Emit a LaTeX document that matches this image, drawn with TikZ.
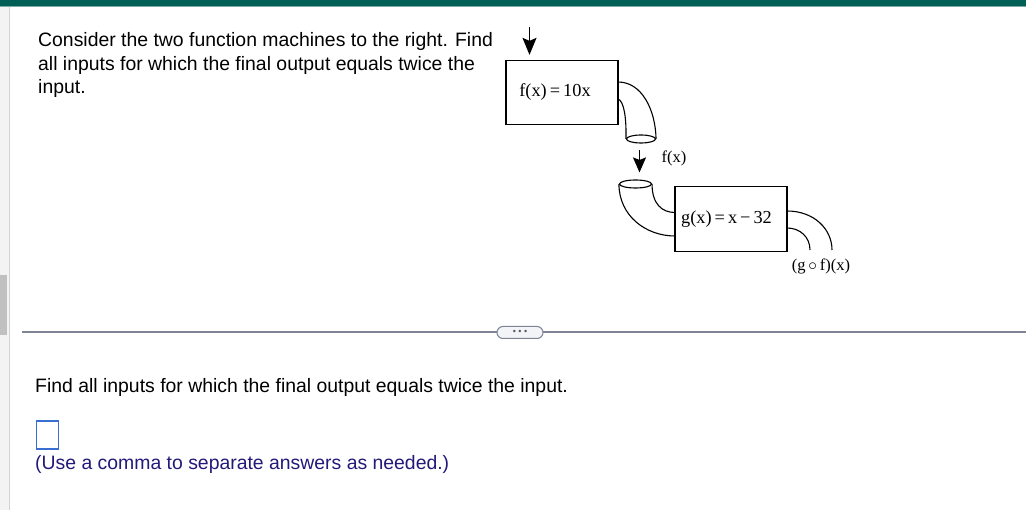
\documentclass[tikz,border=0pt]{standalone}
\usepackage{fontspec}
\setmainfont{Liberation Sans}
\newfontfamily\machinefont{Liberation Serif}
\usetikzlibrary{positioning,arrows.meta,shapes.geometric,shapes.misc}
\definecolor{topbar}{HTML}{025F55}
\definecolor{topline}{HTML}{7FA9A3}
\definecolor{sidegray}{HTML}{F3F3F3}
\definecolor{sideline}{HTML}{D0D4DC}
\definecolor{scrollgray}{HTML}{C0C0C0}
\definecolor{sepgray}{HTML}{7E8494}
\definecolor{buttonfill}{HTML}{F2F4F7}
\definecolor{answerblue}{HTML}{3A6FD2}
\definecolor{hintblue}{HTML}{22197A}
\tikzset{
	machine/.style = {draw, line width=1.3pt, minimum width=112pt, minimum height=64pt, inner sep=0pt, font=\machinefont\fontsize{18.3}{20}\selectfont},
	spout/.style = {draw, ellipse, line width=1.1pt, minimum width=29pt, minimum height=8pt, inner sep=0pt},
	pipe/.style = {line width=1.1pt},
	feed/.style = {line width=1.4pt, -{Stealth[width=14pt,length=17pt,inset=3pt]}},
	tag/.style = {inner sep=0pt, font=\machinefont\fontsize{16.5}{18}\selectfont},
	question/.style = {inner sep=0pt, align=left, font=\fontsize{19.4}{23.5}\selectfont},
}
\begin{document}
\begin{tikzpicture}[x=1pt,y=-1pt]
	\useasboundingbox (0,0) rectangle (1026,510);
	\fill[white] (0,0) rectangle (1026,510);
	\fill[topbar] (0,0) rectangle (1026,6);
	\fill[topline] (0,6) rectangle (1026,7.5);
	\fill[sidegray] (0,7.5) rectangle (9,510);
	\draw[sideline] (9.5,7.5) -- (9.5,510);
	\fill[scrollgray] (0,275) rectangle (7,335);
	
	\node[question, anchor=north west] (intro) at (38,32.5) {Consider the two function machines to the right. Find\\all inputs for which the final output equals twice the\\input.};
	
	\node[machine] (fbox) at (562,92.5) {f(x)\,=\,10x\kern14pt\relax};
	\coordinate (fin) at (529.5,27);
	\node[spout] (fspout) at (641,139) {};
	\coordinate (fouttop) at (618,82);
	\coordinate (foutlow) at (618,99);
	\coordinate (fdrop) at (639.5,150);
	\node[tag] (fxtag) at (674,158) {f(x)};
	
	\node[spout, minimum width=32pt] (gspout) at (635.5,184) {};
	\node[machine, minimum height=65pt] (gbox) at (731,219) {g(x)\,=\,x\,−\,32\kern9pt\relax};
	\coordinate (gintop) at (675,212.5);
	\coordinate (ginlow) at (675,236);
	\coordinate (gouttop) at (787,211);
	\coordinate (goutlow) at (787,228);
	\coordinate (gendin) at (810,250);
	\coordinate (gendout) at (832,250);
	\node[tag] (gftag) at (821,266) {(g\,$\circ$\,f)(x)};
	
	\draw[feed] (fin) -- ([yshift=5pt]fin |- fbox.north);
	\draw[pipe] (fouttop) .. controls (642,82) and (655.5,110) .. (fspout.east);
	\draw[pipe] (foutlow) .. controls (624,101) and (626.5,118) .. (fspout.west);
	\draw[feed, -{Stealth[width=13pt,length=15pt,inset=2.5pt]}] (fdrop) -- ([yshift=7pt]fdrop |- gspout.north);
	\draw[pipe] (gspout.east) .. controls (652,204) and (662,212.5) .. (gintop);
	\draw[pipe] (gspout.west) .. controls (619,216) and (646,236) .. (ginlow);
	\draw[pipe] (gouttop) .. controls (814,211) and (832,229) .. (gendout);
	\draw[pipe] (goutlow) .. controls (800,228) and (810,237) .. (gendin);
	
	\draw[sepgray, line width=1.2pt] (22,332) -- (1026,332);
	\node[draw=sepgray, fill=buttonfill, rounded rectangle, line width=1pt, minimum width=46pt, minimum height=12pt, inner sep=0pt, text=black!65, font=\fontsize{9}{9}\selectfont] (more) at (520,332.5) {•\hspace{2.5pt}•\hspace{2.5pt}•};
	
	\node[question, anchor=base west] (task) at (35,393) {Find all inputs for which the final output equals twice the input.};
	\node[draw=answerblue, line width=1.3pt, minimum width=22pt, minimum height=28pt, inner sep=0pt] (answer) at (47.5,435) {};
	\node[question, anchor=base west, text=hintblue] (hint) at (35,470) {(Use a comma to separate answers as needed.)};
\end{tikzpicture}
\end{document}
